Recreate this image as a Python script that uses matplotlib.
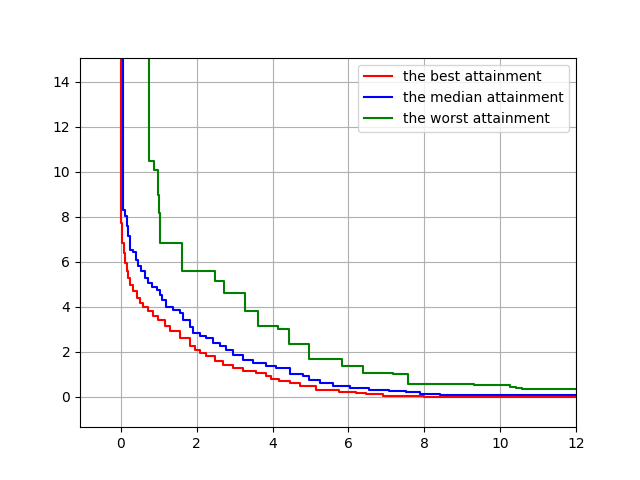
import matplotlib
matplotlib.use("Agg")
import matplotlib.pyplot as plt

# x where each step drops, and the level reached after the drop
best_x = [0.00, 0.02, 0.04, 0.07, 0.10, 0.15, 0.19, 0.25, 0.32, 0.41, 0.50, 0.59, 0.72, 0.85, 0.98, 1.16,
          1.30, 1.55, 1.82, 1.95, 2.08, 2.25, 2.47, 2.69, 2.96, 3.22, 3.57, 3.83, 3.96, 4.18, 4.45, 4.71,
          5.15, 5.76, 6.20, 6.46, 6.90, 8.00]
best_y = [7.70, 7.20, 6.84, 6.39, 5.94, 5.57, 5.28, 4.98, 4.68, 4.38, 4.16, 3.98, 3.79, 3.57, 3.39, 3.12,
          2.90, 2.61, 2.24, 2.09, 1.94, 1.79, 1.57, 1.42, 1.27, 1.12, 1.05, 0.93, 0.78, 0.68, 0.60, 0.46,
          0.31, 0.19, 0.16, 0.12, 0.04, 0.00]

median_x = [0.06, 0.10, 0.15, 0.19, 0.24, 0.32, 0.39, 0.46, 0.54, 0.63, 0.72, 0.81, 0.94, 1.03, 1.07, 1.20,
            1.38, 1.55, 1.64, 1.82, 1.90, 2.08, 2.25, 2.43, 2.61, 2.78, 2.96, 3.22, 3.48, 3.83, 4.10, 4.45,
            4.80, 4.97, 5.24, 5.59, 6.03, 6.55, 7.08, 7.52, 7.89, 8.42]
median_y = [8.30, 8.02, 7.57, 7.13, 6.53, 6.41, 6.09, 5.80, 5.57, 5.28, 5.05, 4.87, 4.72, 4.53, 4.31, 3.98,
            3.86, 3.71, 3.42, 3.08, 2.82, 2.70, 2.60, 2.40, 2.26, 2.08, 1.86, 1.64, 1.49, 1.38, 1.27, 1.02,
            0.93, 0.72, 0.60, 0.46, 0.38, 0.31, 0.24, 0.19, 0.13, 0.08]

worst_x = [0.745, 0.87, 0.97, 1.01, 1.04, 1.605, 2.47, 2.72, 3.28, 3.61, 4.14, 4.43, 4.95, 5.83, 6.39,
           7.17, 7.56, 9.32, 10.26, 10.42, 10.58]
worst_y = [10.46, 10.06, 8.98, 8.16, 6.83, 5.57, 5.16, 4.61, 3.79, 3.13, 3.02, 2.36, 1.69, 1.38, 1.05,
           0.99, 0.58, 0.50, 0.44, 0.37, 0.33]

X_END = 12.2
Y_TOP = 50.0

fig, ax = plt.subplots(figsize=(6.4, 4.8), dpi=100)
for xs, ys, c, lab in [(best_x, best_y, 'red', 'the best attainment'),
                       (median_x, median_y, 'blue', 'the median attainment'),
                       (worst_x, worst_y, 'green', 'the worst attainment')]:
    px = [xs[0]] + list(xs) + [X_END]
    py = [Y_TOP] + list(ys) + [ys[-1]]
    ax.step(px, py, where='post', color=c, label=lab)
ax.set_xlim(-1.08, 12.0)
ax.set_ylim(-1.36, 15.07)
ax.set_xticks([0, 2, 4, 6, 8, 10, 12])
ax.set_yticks([0, 2, 4, 6, 8, 10, 12, 14])
ax.grid(True)
ax.legend(loc='upper right')
fig.savefig('out.png', dpi=100)
